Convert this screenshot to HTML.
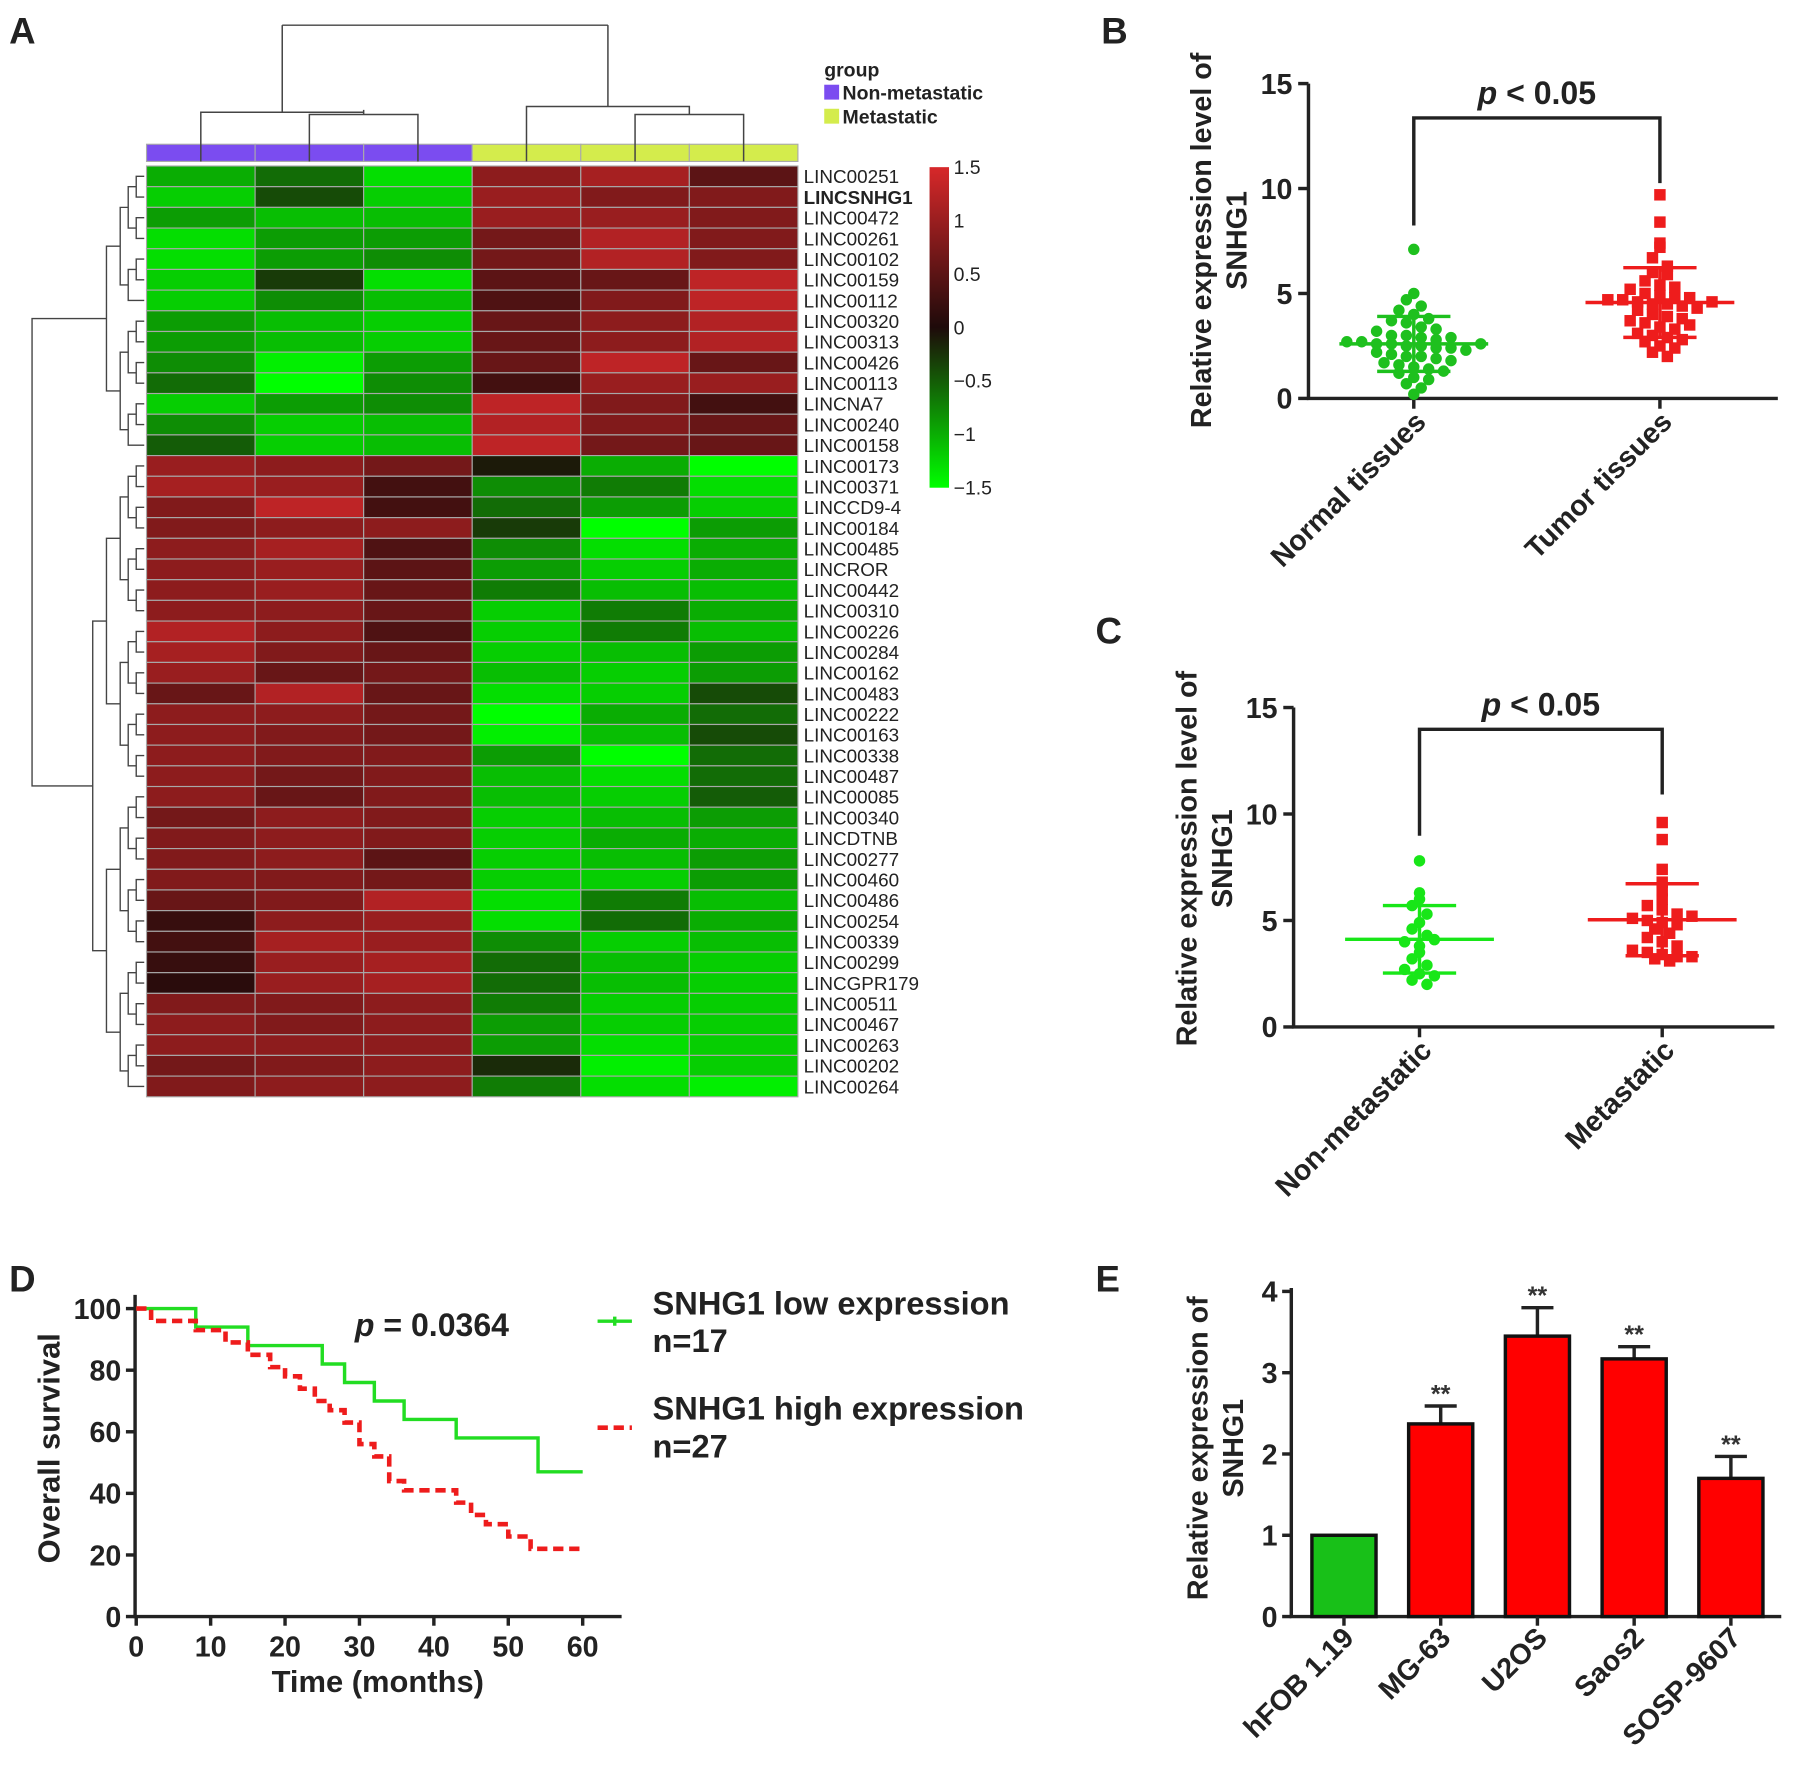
<!DOCTYPE html>
<html><head><meta charset="utf-8"><style>
html,body{margin:0;padding:0;background:#fff}
svg{display:block;font-family:"Liberation Sans",Arial,sans-serif}
</style></head><body>
<svg id="fig" width="1795" height="1786" viewBox="0 0 1568 1560" preserveAspectRatio="none" xmlns="http://www.w3.org/2000/svg">
<g font-weight="bold" font-size="32" fill="#222">
<text x="8" y="38">A</text>
<text x="962" y="38">B</text>
<text x="957" y="562">C</text>
<text x="8" y="1128">D</text>
<text x="957" y="1128">E</text>
</g>
<g id="heat"></g>
<g id="pB"></g>
<g id="pC"></g>
<g id="pD"></g>
<g id="pE"></g>
</svg>
<script>
const genes=["LINC00251","LINCSNHG1","LINC00472","LINC00261","LINC00102","LINC00159","LINC00112","LINC00320","LINC00313","LINC00426","LINC00113","LINCNA7","LINC00240","LINC00158","LINC00173","LINC00371","LINCCD9-4","LINC00184","LINC00485","LINCROR","LINC00442","LINC00310","LINC00226","LINC00284","LINC00162","LINC00483","LINC00222","LINC00163","LINC00338","LINC00487","LINC00085","LINC00340","LINCDTNB","LINC00277","LINC00460","LINC00486","LINC00254","LINC00339","LINC00299","LINCGPR179","LINC00511","LINC00467","LINC00263","LINC00202","LINC00264"];
const groups=["Non-metastatic","Non-metastatic","Non-metastatic","Metastatic","Metastatic","Metastatic"];
const heatValues=[
[-1,-0.6,-1.3,0.9,1.1,0.5],[-1.2,-0.4,-1.2,1,0.8,0.8],[-0.9,-1.1,-1.1,1,1,0.8],[-1.3,-0.9,-0.9,0.7,1.2,0.8],[-1.3,-0.9,-0.8,0.7,1.2,0.8],
[-1.2,-0.3,-1.3,0.5,0.6,1.3],[-1.2,-0.8,-1.1,0.4,0.8,1.3],[-0.9,-1.1,-1.2,0.6,0.9,1.2],[-0.9,-1.1,-1.2,0.6,0.9,1.2],[-0.8,-1.4,-0.9,0.6,1.3,0.6],
[-0.6,-1.5,-0.8,0.3,1.0,1.0],[-1.2,-0.9,-0.8,1.3,0.8,0.3],[-0.8,-1.2,-1.1,1.2,0.8,0.6],[-0.5,-1.2,-1.1,1.3,0.7,0.6],[1.0,0.9,0.7,-0.1,-1.0,-1.5],
[1.1,1.0,0.3,-0.8,-0.7,-1.3],[0.8,1.3,0.3,-0.6,-0.9,-1.2],[0.8,0.9,0.9,-0.3,-1.5,-0.9],[0.9,1.1,0.4,-0.8,-1.3,-1.0],[0.9,1.0,0.5,-0.9,-1.2,-1.0],
[0.9,1.0,0.6,-0.7,-1.1,-1.1],[0.9,0.9,0.6,-1.2,-0.7,-1.0],[1.2,0.9,0.4,-1.2,-0.7,-1.1],[1.1,0.8,0.6,-1.2,-1.1,-0.9],[1.0,0.6,0.7,-1.1,-1.2,-0.9],
[0.6,1.2,0.6,-1.3,-1.2,-0.4],[0.9,0.9,0.7,-1.5,-1.0,-0.6],[0.9,0.8,0.7,-1.4,-1.1,-0.4],[0.9,0.8,0.8,-0.9,-1.5,-0.6],[0.9,0.7,0.8,-1.1,-1.3,-0.6],
[0.9,0.6,0.8,-1.1,-1.2,-0.5],[0.7,0.9,0.8,-1.2,-1.1,-0.9],[0.8,0.9,0.8,-1.2,-1.0,-1.0],[0.8,0.9,0.5,-1.2,-1.1,-0.9],[0.8,0.8,0.7,-1.2,-1.2,-0.9],
[0.6,0.8,1.2,-1.3,-0.7,-1.1],[0.2,0.9,1.0,-1.3,-0.6,-1.0],[0.3,1.1,1.0,-0.8,-1.2,-1.1],[0.2,1.0,1.1,-0.6,-1.1,-1.2],[0.1,1.0,1.1,-0.6,-1.1,-1.2],
[0.8,0.8,0.9,-0.7,-1.2,-1.2],[0.9,0.8,0.9,-0.9,-1.2,-1.2],[0.9,0.9,0.9,-0.9,-1.3,-1.2],[0.7,0.8,0.9,-0.2,-1.4,-1.2],[0.8,0.9,0.9,-0.7,-1.3,-1.4]];
const colorTicks=[1.5,1,0.5,0,-0.5,-1,-1.5];

const normalVals=[7.1,5.0,4.7,4.4,4.2,4.0,3.8,3.7,3.6,3.4,3.3,3.2,3.0,3.0,2.9,2.8,2.7,2.7,2.6,2.6,2.5,2.5,2.4,2.4,2.3,2.2,2.1,2.0,2.0,1.9,1.8,1.7,1.6,1.5,1.4,1.3,1.2,1.0,0.9,0.7,0.5,0.2,2.6,2.9];
const tumorVals=[9.7,8.4,7.4,7.2,6.7,6.3,6.0,5.9,5.6,5.4,5.2,5.0,4.9,4.8,4.7,4.7,4.6,4.5,4.5,4.4,4.3,4.2,4.0,3.9,3.8,3.7,3.6,3.4,3.3,3.1,3.0,2.9,2.8,2.7,2.5,2.4,2.2,2.0,4.6,4.8,5.3,3.5];
const nonMetVals=[7.8,6.3,6.0,5.7,5.3,4.9,4.6,4.3,4.0,3.8,3.5,3.2,2.9,2.7,2.5,2.4,2.2,2.0,4.1];
const metVals=[9.6,8.8,7.4,6.8,6.4,6.0,5.7,5.5,5.3,5.1,5.0,4.9,4.8,4.6,4.4,4.2,4.0,3.8,3.6,3.5,3.4,3.3,3.3,3.2,3.1,5.2];

const kmLowTimes=[0,8,15,25,28,32,36,43,54,60];
const kmLowSurv=[100,94,88,82,76,70,64,58,47,47];
const kmHighTimes=[0,2,8,12,15,18,20,22,24,26,28,30,32,34,36,43,45,47,50,53,60];
const kmHighSurv=[100,96,93,89,85,81,78,74,70,67,63,56,52,44,41,37,33,30,26,22,22];

const cellLines=["hFOB 1.19","MG-63","U2OS","Saos2","SOSP-9607"];
const barValues=[1,2.37,3.45,3.17,1.7];
const barErrors=[0,0.22,0.35,0.15,0.27];

const NS="http://www.w3.org/2000/svg";
function mk(parent,tag,attrs,txt){const e=document.createElementNS(NS,tag);for(const k in attrs)e.setAttribute(k,attrs[k]);if(txt!==undefined)e.textContent=txt;parent.appendChild(e);return e;}

// ---------- Heatmap ----------
(function(){
const g=document.getElementById('heat');
const x0=128,x1=697,y0=145,y1=958;
const cw=(x1-x0)/6,rh=(y1-y0)/genes.length;
function col(v){const t=Math.max(-1.5,Math.min(1.5,v))/1.5;
 if(t>=0){return `rgb(${Math.round(30+185*t)},${Math.round(10+30*t)},${Math.round(10+32*t)})`;}
 const s=-t;return `rgb(${Math.round(30*(1-s))},${Math.round(10+245*s)},${Math.round(10*(1-s))})`;}
groups.forEach((gr,j)=>{
 const r=mk(g,'rect',{x:x0+j*cw,y:126,width:cw,height:15,fill:gr==="Metastatic"?"#d4ec4c":"#7b4cf0",stroke:"#aaa","stroke-width":1});
 
 
});
heatValues.forEach((row,i)=>{
 row.forEach((v,j)=>{
  const r=mk(g,'rect',{x:x0+j*cw,y:y0+i*rh,width:cw,height:rh,fill:col(v),stroke:"#a8a8a8","stroke-width":1});
  
  
 });
 const t=mk(g,'text',{x:702,y:y0+i*rh+rh/2+6,"font-size":16.5,fill:"#222","font-weight":genes[i]==="LINCSNHG1"?"bold":"normal"},genes[i]);
 
 
});
const cx=j=>x0+cw*(j+0.5);
const cd=`M${cx(1)},141 V100 H${cx(2)} V141 M${(cx(1)+cx(2))/2},100 V96 M${cx(0)},141 V98 H${(cx(1)+cx(2))/2} M${(cx(0)+cx(1)/2+cx(2)/2)/2},98 V22 M${cx(4)},141 V100 H${cx(5)} V141 M${cx(3)},141 V93 H${(cx(4)+cx(5))/2} V100 M${(cx(3)+(cx(4)+cx(5))/2)/2},93 V22 M${(cx(0)+cx(1)/2+cx(2)/2)/2},22 H${(cx(3)+(cx(4)+cx(5))/2)/2}`;
const p=mk(g,'path',{d:cd,fill:"none",stroke:"#444","stroke-width":1.3});


let d="";
function tree(a,b,depth){
 if(a===b)return [y0+rh*(a+0.5),126];
 const m=Math.floor((a+b)/2);
 const L=tree(a,m,depth+1),R=tree(m+1,b,depth+1);
 const x=depth===0?28:Math.min(L[1],R[1])-(b-a>8?12:7);
 d+=`M${L[1]},${L[0]} H${x} V${R[0]} H${R[1]} `;
 return [(L[0]+R[0])/2,x];
}
const T=tree(0,13,1),B=tree(14,44,1);
d+=`M${T[1]},${T[0]} H28 V${B[0]} H${B[1]}`;
const rp=mk(g,'path',{d:d,fill:"none",stroke:"#444","stroke-width":1.2});


const defs=mk(g,'defs',{});
const lg=mk(defs,'linearGradient',{id:'cb',x1:0,y1:0,x2:0,y2:1});
[1.5,0.75,0,-0.75,-1.5].forEach((v,k)=>mk(lg,'stop',{offset:k/4,"stop-color":col(v)}));
const cb=mk(g,'rect',{x:812,y:146,width:17,height:280,fill:"url(#cb)"});


colorTicks.forEach(v=>{
 const y=146+(1.5-v)/3*280;
 const t=mk(g,'text',{x:833,y:y+6,"font-size":17,fill:"#222"},v<0?"\u2212"+Math.abs(v):String(v));
 
 
});
const lt=mk(g,'text',{x:720,y:67,"font-size":17,"font-weight":"bold",fill:"#222"},"group");


[["Non-metastatic","#7b4cf0",87],["Metastatic","#d4ec4c",108]].forEach(([n,c,y])=>{
 const r=mk(g,'rect',{x:720,y:y-13,width:13,height:13,fill:c});
 
 
 const t=mk(g,'text',{x:736,y:y,"font-size":17,"font-weight":"bold",fill:"#222"},n);
 
 
});
})();

// ---------- Scatter panels ----------
function scatterPanel(id,o){
 const g=document.getElementById(id);
 const ys=v=>o.yBot-(o.yBot-o.yTop)*v/15;
 mk(g,'path',{d:`M${o.ax},${o.yTop} V${o.yBot} H${o.xEnd}`,fill:"none",stroke:"#222","stroke-width":3});
 [0,5,10,15].forEach(v=>{
  mk(g,'line',{x1:o.ax-9,x2:o.ax,y1:ys(v),y2:ys(v),stroke:"#222","stroke-width":3});
  const t=mk(g,'text',{x:o.ax-14,y:ys(v)+9,"text-anchor":"end","font-size":25,"font-weight":"bold",fill:"#222"},String(v));
  
  
 });
 const tt=mk(g,'text',{transform:`translate(${o.titleX},${o.titleY}) rotate(-90)`,"text-anchor":"middle","font-size":25,"font-weight":"bold",fill:"#222"});
 
 
 mk(tt,'tspan',{x:0,y:0},"Relative expression level of");
 mk(tt,'tspan',{x:0,y:31},"SNHG1");
 o.series.forEach((s,si)=>{
  const cx=o.cats[si];
  mk(g,'line',{x1:cx,x2:cx,y1:o.yBot,y2:o.yBot+9,stroke:"#222","stroke-width":3});
  const lab=mk(g,'text',{transform:`translate(${cx+12},${o.yBot+22}) rotate(-45)`,"text-anchor":"end","font-size":25,"font-weight":"bold",fill:"#222"},o.labels[si]);
  
  
  const bins={};
  s.vals.forEach(v=>{const k=Math.round(v/0.5);(bins[k]=bins[k]||[]).push(v);});
  for(const k in bins){const arr=bins[k];arr.forEach((v,i)=>{
   const off=(i-(arr.length-1)/2)*13;
   let m;
   if(s.shape==="circle"){m=mk(g,'circle',{cx:cx+off,cy:ys(v),r:5,fill:s.color});}
   else{m=mk(g,'rect',{x:cx+off-5,y:ys(v)-5,width:10,height:10,fill:s.color});}
   
   
  });}
  const mean=s.vals.reduce((a,b)=>a+b,0)/s.vals.length;
  const sd=Math.sqrt(s.vals.reduce((a,b)=>a+(b-mean)**2,0)/(s.vals.length-1));
  const ms=mk(g,'path',{d:`M${cx-65},${ys(mean)} H${cx+65} M${cx},${ys(mean-sd)} V${ys(mean+sd)} M${cx-32},${ys(mean-sd)} H${cx+32} M${cx-32},${ys(mean+sd)} H${cx+32}`,stroke:s.color,"stroke-width":3,fill:"none"});
  
  
 });
 const br=mk(g,'path',{d:`M${o.cats[0]},${o.brA} V${o.brTop} H${o.cats[1]} V${o.brB}`,fill:"none",stroke:"#222","stroke-width":3});
 
 
 const pt=mk(g,'text',{x:(o.cats[0]+o.cats[1])/2,y:o.brTop-12,"text-anchor":"middle","font-size":28,"font-weight":"bold",fill:"#222"});
 
 
 mk(pt,'tspan',{"font-style":"italic"},"p");
 mk(pt,'tspan',{}," < 0.05");
}
scatterPanel('pB',{ax:1143,yTop:73,yBot:348,xEnd:1553,cats:[1235,1450],titleX:1058,titleY:210,
 labels:["Normal tissues","Tumor tissues"],brA:197,brB:160,brTop:103,
 series:[{vals:normalVals,color:"#1ec01e",shape:"circle"},{vals:tumorVals,color:"#ee1c1c",shape:"square"}]});
scatterPanel('pC',{ax:1130,yTop:618,yBot:897,xEnd:1550,cats:[1240,1452],titleX:1045,titleY:750,
 labels:["Non-metastatic","Metastatic"],brA:730,brB:694,brTop:637,
 series:[{vals:nonMetVals,color:"#18e618",shape:"circle"},{vals:metVals,color:"#ee1c1c",shape:"square"}]});

// ---------- Survival ----------
(function(){
 const g=document.getElementById('pD');
 const xs=t=>119+t*6.5, ys=v=>1412-v*2.69;
 mk(g,'path',{d:`M118,1131 V1412 H543`,fill:"none",stroke:"#222","stroke-width":3});
 [0,20,40,60,80,100].forEach(v=>{
  mk(g,'line',{x1:110,x2:118,y1:ys(v),y2:ys(v),stroke:"#222","stroke-width":3});
  const t=mk(g,'text',{x:106,y:ys(v)+9,"text-anchor":"end","font-size":25,"font-weight":"bold",fill:"#222"},String(v));
  
  
 });
 [0,10,20,30,40,50,60].forEach(v=>{
  mk(g,'line',{x1:xs(v),x2:xs(v),y1:1412,y2:1420,stroke:"#222","stroke-width":3});
  const t=mk(g,'text',{x:xs(v),y:1447,"text-anchor":"middle","font-size":25,"font-weight":"bold",fill:"#222"},String(v));
  
  
 });
 const xt=mk(g,'text',{x:330,y:1478,"text-anchor":"middle","font-size":27,"font-weight":"bold",fill:"#222"},"Time (months)");
 
 
 const yt=mk(g,'text',{transform:"translate(52,1265) rotate(-90)","text-anchor":"middle","font-size":27,"font-weight":"bold",fill:"#222"},"Overall survival");
 
 
 function step(ts,ss){let d=`M${xs(ts[0])},${ys(ss[0])}`;for(let i=1;i<ts.length;i++){d+=` H${xs(ts[i])} V${ys(ss[i])}`;}return d;}
 const gl=mk(g,'path',{d:step(kmLowTimes,kmLowSurv),fill:"none",stroke:"#22dd22","stroke-width":3});
 
 
 const rl=mk(g,'path',{d:step(kmHighTimes,kmHighSurv),fill:"none",stroke:"#ee1c1c","stroke-width":4,"stroke-dasharray":"9,5"});
 
 
 const pv=mk(g,'text',{x:310,y:1167,"font-size":28,"font-weight":"bold",fill:"#222"});
 
 
 mk(pv,'tspan',{"font-style":"italic"},"p");
 mk(pv,'tspan',{}," = 0.0364");
 const l1=mk(g,'path',{d:"M522,1154 H552 M537,1150 V1158",stroke:"#22dd22","stroke-width":3,fill:"none"});
 
 
 const l2=mk(g,'path',{d:"M522,1247 H552",stroke:"#ee1c1c","stroke-width":4,"stroke-dasharray":"9,5",fill:"none"});
 
 
 [["SNHG1 low expression",1148],["n=17",1181],["SNHG1 high expression",1240],["n=27",1273]].forEach(([s,y])=>{
  const t=mk(g,'text',{x:570,y:y,"font-size":28.5,"font-weight":"bold",fill:"#222"},s);
  
  
 });
})();

// ---------- Bars ----------
(function(){
 const g=document.getElementById('pE');
 const ys=v=>1412-v*71, xc=i=>1174+i*84.5, bw=56;
 mk(g,'path',{d:`M1128,1125 V1412 H1556`,fill:"none",stroke:"#222","stroke-width":3});
 [0,1,2,3,4].forEach(v=>{
  mk(g,'line',{x1:1120,x2:1128,y1:ys(v),y2:ys(v),stroke:"#222","stroke-width":3});
  const t=mk(g,'text',{x:1116,y:ys(v)+9,"text-anchor":"end","font-size":25,"font-weight":"bold",fill:"#222"},String(v));
  
  
 });
 const tt=mk(g,'text',{transform:"translate(1055,1265) rotate(-90)","text-anchor":"middle","font-size":25,"font-weight":"bold",fill:"#222"});
 
 
 mk(tt,'tspan',{x:0,y:0},"Relative expression of");
 mk(tt,'tspan',{x:0,y:31},"SNHG1");
 barValues.forEach((v,i)=>{
  const x=xc(i);
  if(barErrors[i]>0){
   const e=mk(g,'path',{d:`M${x},${ys(v)} V${ys(v+barErrors[i])} M${x-14},${ys(v+barErrors[i])} H${x+14}`,stroke:"#222","stroke-width":3,fill:"none"});
   
   
   const s=mk(g,'text',{x:x,y:ys(v+barErrors[i])-3,"text-anchor":"middle","font-size":22,"font-weight":"bold",fill:"#333"},"**");
   
   
  }
  const r=mk(g,'rect',{x:x-bw/2,y:ys(v),width:bw,height:ys(0)-ys(v),fill:i===0?"#18c018":"#ff0000",stroke:"#111","stroke-width":3});
  
  
  mk(g,'line',{x1:x,x2:x,y1:1412,y2:1420,stroke:"#222","stroke-width":3});
  const l=mk(g,'text',{transform:`translate(${x+10},${1432}) rotate(-45)`,"text-anchor":"end","font-size":25,"font-weight":"bold",fill:"#222"},cellLines[i]);
  
  
 });
})();
</script>
</body></html>
